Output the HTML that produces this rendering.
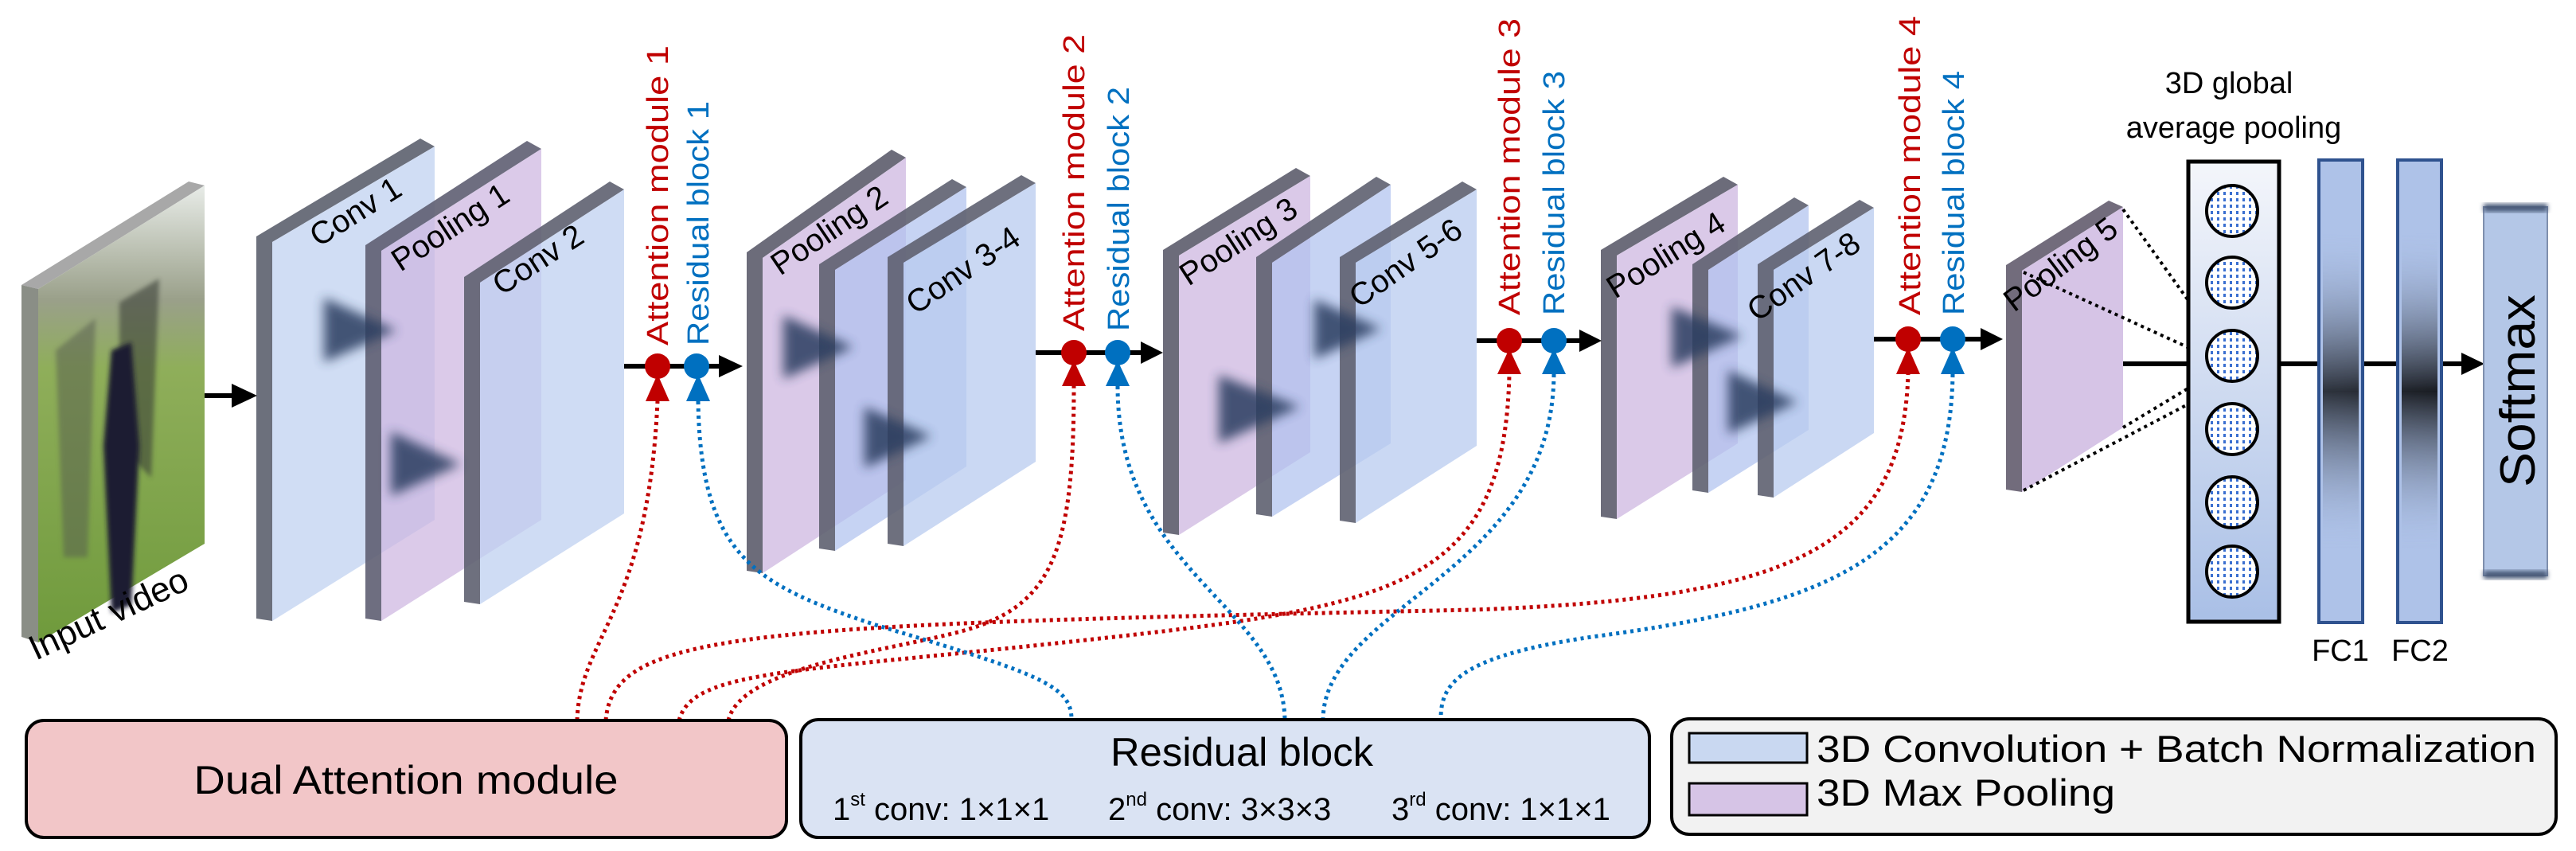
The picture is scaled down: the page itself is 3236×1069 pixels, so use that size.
<!DOCTYPE html>
<html><head><meta charset="utf-8"><style>html,body{margin:0;padding:0;background:#fff}svg{display:block}</style></head>
<body>
<svg xmlns="http://www.w3.org/2000/svg" width="3236" height="1069" viewBox="0 0 3236 1069" font-family="Liberation Sans, sans-serif">
<defs>
<filter id="blur" x="-50%" y="-50%" width="200%" height="200%"><feGaussianBlur stdDeviation="7"/></filter>
<filter id="blur2" x="-20%" y="-20%" width="140%" height="140%"><feGaussianBlur stdDeviation="3"/></filter>
<linearGradient id="gap" x1="0" y1="0" x2="0" y2="1"><stop offset="0" stop-color="#f4f6fb"/><stop offset="1" stop-color="#a9bfe6"/></linearGradient>
<linearGradient id="fcv" x1="0" y1="0" x2="0" y2="1"><stop offset="0" stop-color="#aec2e8" stop-opacity="0"/><stop offset="0.15" stop-color="#aec2e8" stop-opacity="0"/><stop offset="0.5" stop-color="#000"/><stop offset="0.85" stop-color="#aec2e8" stop-opacity="0"/><stop offset="1" stop-color="#aec2e8" stop-opacity="0"/></linearGradient>
<linearGradient id="fch" x1="0" y1="0" x2="1" y2="0"><stop offset="0" stop-color="#fff" stop-opacity="1"/><stop offset="0.3" stop-color="#fff" stop-opacity="0.2"/><stop offset="0.5" stop-color="#fff" stop-opacity="0"/><stop offset="0.7" stop-color="#fff" stop-opacity="0.2"/><stop offset="1" stop-color="#fff" stop-opacity="1"/></linearGradient>
<mask id="fcm"><rect x="0" y="0" width="3236" height="1069" fill="url(#fch)"/></mask>
<linearGradient id="vid" x1="0" y1="0" x2="0" y2="1"><stop offset="0" stop-color="#e8ece8"/><stop offset="0.25" stop-color="#9aa08a"/><stop offset="0.4" stop-color="#8fae5a"/><stop offset="1" stop-color="#6f9a3c"/></linearGradient>
<pattern id="dots" width="8" height="8" patternUnits="userSpaceOnUse"><rect width="8" height="8" fill="#fff"/><rect x="1" y="1" width="3" height="4" fill="#3a6fd0"/></pattern>
</defs>

<!-- input video -->
<polygon points="27,358 237,228 257,233 48,363" fill="#a8a8a8"/>
<polygon points="27,358 48,363 48,807 27,800" fill="#8a8e86"/>
<polygon points="48,363 257,233 257,683 48,807" fill="url(#vid)"/>
<polygon points="70,440 120,400 110,700 80,700" fill="#555a50" opacity="0.5" filter="url(#blur2)"/>
<polygon points="150,380 200,350 190,600 150,560" fill="#3a3f38" opacity="0.6" filter="url(#blur2)"/>
<path d="M140,440 L165,430 L175,560 L165,760 L140,770 L130,560 Z" fill="#1f1d33" filter="url(#blur2)"/>
<text transform="translate(45,830) rotate(-25)" font-size="44" fill="#000">Input video</text>

<!-- panels: grey strip (left+top) then translucent front -->
<g>
<polygon points="322,297 528,174 546,184 342,304 342,780 322,777" fill="#6c707c"/>
<polygon points="342,304 546,184 546,653 342,780" fill="#c8d7f2" fill-opacity="0.85"/>
<polygon points="459,308 662,177 680,187 479,315 479,780 459,777" fill="#5e5e72" fill-opacity="0.9"/>
<polygon points="479,315 680,187 680,653 479,780" fill="#cdb6e0" fill-opacity="0.72"/>
<polygon points="583,348 766,228 784,238 603,355 603,759 583,756" fill="#5e6070" fill-opacity="0.9"/>
<polygon points="603,355 784,238 784,645 603,759" fill="#bfd0f0" fill-opacity="0.75"/>

<polygon points="938,317 1120,188 1138,198 958,324 958,720 938,717" fill="#6c6c7a"/>
<polygon points="958,324 1138,198 1138,603 958,720" fill="#d6c3e6" fill-opacity="0.9"/>
<polygon points="1029,332 1196,225 1214,235 1049,339 1049,692 1029,689" fill="#5e6070" fill-opacity="0.9"/>
<polygon points="1049,339 1214,235 1214,586 1049,692" fill="#b0c2ee" fill-opacity="0.72"/>
<polygon points="1115,323 1283,220 1301,230 1135,330 1135,686 1115,683" fill="#5e6070" fill-opacity="0.9"/>
<polygon points="1135,330 1301,230 1301,580 1135,686" fill="#b8cbef" fill-opacity="0.75"/>

<polygon points="1461,314 1628,211 1646,221 1481,321 1481,672 1461,669" fill="#6c6c7a"/>
<polygon points="1481,321 1646,221 1646,568 1481,672" fill="#d6c3e6" fill-opacity="0.9"/>
<polygon points="1578,323 1729,222 1747,232 1598,330 1598,649 1578,646" fill="#5e6070" fill-opacity="0.9"/>
<polygon points="1598,330 1747,232 1747,557 1598,649" fill="#b0c2ee" fill-opacity="0.72"/>
<polygon points="1683,323 1837,228 1855,238 1703,330 1703,657 1683,654" fill="#5e6070" fill-opacity="0.9"/>
<polygon points="1703,330 1855,238 1855,560 1703,657" fill="#b8cbef" fill-opacity="0.75"/>

<polygon points="2011,314 2165,222 2183,232 2031,321 2031,652 2011,649" fill="#6c6c7a"/>
<polygon points="2031,321 2183,232 2183,557 2031,652" fill="#d6c3e6" fill-opacity="0.9"/>
<polygon points="2126,332 2254,248 2272,258 2146,339 2146,619 2126,616" fill="#5e6070" fill-opacity="0.9"/>
<polygon points="2146,339 2272,258 2272,540 2146,619" fill="#b0c2ee" fill-opacity="0.72"/>
<polygon points="2208,332 2336,251 2354,261 2228,339 2228,625 2208,622" fill="#5e6070" fill-opacity="0.9"/>
<polygon points="2228,339 2354,261 2354,544 2228,625" fill="#b8cbef" fill-opacity="0.75"/>

<polygon points="2520,333 2649,252 2667,260 2540,340 2540,618 2520,615" fill="#726c7c"/>
<polygon points="2540,340 2667,260 2667,537 2540,618" fill="#d6c4e6"/>
</g>

<!-- blurred triangles -->
<g fill="#2a3c60" opacity="0.85" filter="url(#blur)">
<polygon points="407,374 498,415 407,455"/>
<polygon points="491,542 579,583 491,623"/>
<polygon points="984,396 1072,436 984,476"/>
<polygon points="1086,511 1170,548 1086,588"/>
<polygon points="1651,376 1735,413 1651,451"/>
<polygon points="1531,471 1633,511 1531,557"/>
<polygon points="2100,385 2189,422 2100,462"/>
<polygon points="2171,465 2258,505 2171,545"/>
</g>

<!-- panel labels -->
<g font-size="40" fill="#000">
<text transform="translate(400,311) rotate(-32)">Conv 1</text>
<text transform="translate(503,342) rotate(-33)">Pooling 1</text>
<text transform="translate(630,372) rotate(-33)">Conv 2</text>
<text transform="translate(980,347) rotate(-34)">Pooling 2</text>
<text transform="translate(1150,396) rotate(-34)">Conv 3-4</text>
<text transform="translate(1493,360) rotate(-33)">Pooling 3</text>
<text transform="translate(1707,388) rotate(-35)">Conv 5-6</text>
<text transform="translate(2029,376) rotate(-32)">Pooling 4</text>
<text transform="translate(2207,405) rotate(-35)">Conv 7-8</text>
<text transform="translate(2530,393) rotate(-37)">Pooling 5</text>
</g>

<!-- main arrows -->
<g stroke="#000" stroke-width="6">
<line x1="257" y1="497" x2="295" y2="497"/>
<line x1="784" y1="460" x2="908" y2="460"/>
<line x1="1301" y1="443" x2="1438" y2="443"/>
<line x1="1855" y1="428" x2="1988" y2="428"/>
<line x1="2354" y1="426" x2="2492" y2="426"/>
<line x1="2667" y1="457" x2="2748" y2="457"/>
<line x1="2864" y1="457" x2="2912" y2="457"/>
<line x1="2969" y1="457" x2="3011" y2="457"/>
<line x1="3068" y1="457" x2="3096" y2="457"/>
</g>
<g fill="#000">
<polygon points="291,482 323,497 291,512"/>
<polygon points="903,446 933,460 903,474"/>
<polygon points="1433,429 1461,443 1433,457"/>
<polygon points="1984,414 2012,428 1984,442"/>
<polygon points="2488,412 2516,426 2488,440"/>
<polygon points="3092,443 3121,457 3092,471"/>
</g>

<!-- markers -->
<g fill="#c00000">
<circle cx="826" cy="460" r="16"/><polygon points="826,470 811,504 841,504"/>
<circle cx="1349" cy="443" r="16"/><polygon points="1349,453 1334,485 1364,485"/>
<circle cx="1896" cy="428" r="16"/><polygon points="1896,438 1881,470 1911,470"/>
<circle cx="2397" cy="426" r="16"/><polygon points="2397,436 2382,470 2412,470"/>
</g>
<g fill="#0070c0">
<circle cx="875" cy="460" r="16"/><polygon points="877,470 862,504 892,504"/>
<circle cx="1404" cy="443" r="16"/><polygon points="1404,453 1389,485 1419,485"/>
<circle cx="1952" cy="428" r="16"/><polygon points="1952,438 1937,470 1967,470"/>
<circle cx="2453" cy="426" r="16"/><polygon points="2453,436 2438,470 2468,470"/>
</g>

<!-- vertical labels -->
<g font-size="38">
<text transform="translate(839,434) rotate(-90)" fill="#c00000" textLength="377" lengthAdjust="spacingAndGlyphs">Attention module 1</text>
<text transform="translate(890,434) rotate(-90)" fill="#0070c0" textLength="307" lengthAdjust="spacingAndGlyphs">Residual block 1</text>
<text transform="translate(1362,416) rotate(-90)" fill="#c00000" textLength="373" lengthAdjust="spacingAndGlyphs">Attention module 2</text>
<text transform="translate(1418,416) rotate(-90)" fill="#0070c0" textLength="307" lengthAdjust="spacingAndGlyphs">Residual block 2</text>
<text transform="translate(1909,396) rotate(-90)" fill="#c00000" textLength="373" lengthAdjust="spacingAndGlyphs">Attention module 3</text>
<text transform="translate(1965,396) rotate(-90)" fill="#0070c0" textLength="307" lengthAdjust="spacingAndGlyphs">Residual block 3</text>
<text transform="translate(2412,396) rotate(-90)" fill="#c00000" textLength="376" lengthAdjust="spacingAndGlyphs">Attention module 4</text>
<text transform="translate(2467,396) rotate(-90)" fill="#0070c0" textLength="307" lengthAdjust="spacingAndGlyphs">Residual block 4</text>
</g>

<!-- dotted connectors -->
<g fill="none" stroke-width="5" stroke-dasharray="4,5">
<g stroke="#c00000">
<path d="M725,905 C728,800 814,770 826,504"/>
<path d="M761,905 C770,790 950,785 1850,766 C2250,752 2390,690 2397,470"/>
<path d="M853,905 C870,840 1000,845 1400,800 C1760,760 1890,730 1896,470"/>
<path d="M915,905 C930,840 1100,820 1200,795 C1320,765 1349,700 1349,485"/>
</g>
<g stroke="#0070c0">
<path d="M877,504 C880,700 950,735 1100,785 C1300,845 1346,860 1346,903"/>
<path d="M1404,485 C1404,720 1610,760 1614,903"/>
<path d="M1952,470 C1950,720 1665,760 1662,903"/>
<path d="M2453,470 C2450,700 2300,760 2000,800 C1830,825 1810,860 1810,903"/>
</g>
</g>

<!-- pooling5 dotted lines -->
<g stroke="#000" stroke-width="4" stroke-dasharray="4,5" fill="none">
<line x1="2542" y1="342" x2="2772" y2="447"/>
<line x1="2667" y1="263" x2="2778" y2="418"/>
<line x1="2667" y1="537" x2="2775" y2="472"/>
<line x1="2542" y1="616" x2="2798" y2="482"/>
</g>

<!-- GAP -->
<rect x="2749" y="203" width="114" height="578" fill="url(#gap)" stroke="#000" stroke-width="5"/>
<g stroke="#000" stroke-width="4" fill="url(#dots)">
<circle cx="2804" cy="265" r="32"/><circle cx="2804" cy="355" r="32"/><circle cx="2804" cy="447" r="32"/>
<circle cx="2804" cy="539" r="32"/><circle cx="2804" cy="631" r="32"/><circle cx="2804" cy="718" r="32"/>
</g>
<text x="2800" y="117" font-size="38" text-anchor="middle">3D global</text>
<text x="2806" y="173" font-size="38" text-anchor="middle">average pooling</text>

<!-- FC -->
<g>
<rect x="2913" y="201" width="55" height="581" fill="#aec2e8" stroke="#2f528f" stroke-width="4"/>
<rect x="2918" y="206" width="45" height="571" fill="url(#fcv)" mask="url(#fcm)"/>
<rect x="3012" y="201" width="55" height="581" fill="#aec2e8" stroke="#2f528f" stroke-width="4"/>
<rect x="3017" y="206" width="45" height="571" fill="url(#fcv)" mask="url(#fcm)"/>
</g>
<text x="2940" y="830" font-size="38" text-anchor="middle">FC1</text>
<text x="3040" y="830" font-size="38" text-anchor="middle">FC2</text>

<!-- Softmax -->
<rect x="3120" y="260" width="80" height="463" fill="#b4c7e7" stroke="#7f8fad" stroke-width="2"/>
<rect x="3120" y="256" width="80" height="10" fill="#4a5a78" filter="url(#blur2)"/>
<rect x="3120" y="717" width="80" height="10" fill="#4a5a78" filter="url(#blur2)"/>
<text transform="translate(3184,612) rotate(-90)" font-size="62" textLength="242" lengthAdjust="spacingAndGlyphs">Softmax</text>

<!-- bottom boxes -->
<rect x="33" y="905" width="955" height="147" rx="22" fill="#f2c6c8" stroke="#000" stroke-width="4"/>
<text x="510" y="997" font-size="50" text-anchor="middle" textLength="533" lengthAdjust="spacingAndGlyphs">Dual Attention module</text>

<rect x="1006" y="904" width="1066" height="148" rx="22" fill="#dae3f3" stroke="#000" stroke-width="4"/>
<text x="1560" y="962" font-size="50" text-anchor="middle" textLength="330" lengthAdjust="spacingAndGlyphs">Residual block</text>
<g font-size="40">
<text x="1046" y="1030">1<tspan font-size="24" dy="-18">st</tspan><tspan dy="18"> conv: 1×1×1</tspan></text>
<text x="1392" y="1030">2<tspan font-size="24" dy="-18">nd</tspan><tspan dy="18"> conv: 3×3×3</tspan></text>
<text x="1748" y="1030">3<tspan font-size="24" dy="-18">rd</tspan><tspan dy="18"> conv: 1×1×1</tspan></text>
</g>

<rect x="2100" y="903" width="1111" height="145" rx="22" fill="#f2f2f2" stroke="#000" stroke-width="4"/>
<rect x="2122" y="921" width="148" height="37" fill="#c9d8f1" stroke="#000" stroke-width="3"/>
<rect x="2122" y="984" width="148" height="40" fill="#d6c4e6" stroke="#000" stroke-width="3"/>
<text x="2282" y="957" font-size="47" textLength="904" lengthAdjust="spacingAndGlyphs">3D Convolution + Batch Normalization</text>
<text x="2282" y="1012" font-size="47" textLength="375" lengthAdjust="spacingAndGlyphs">3D Max Pooling</text>
</svg>
</body></html>
